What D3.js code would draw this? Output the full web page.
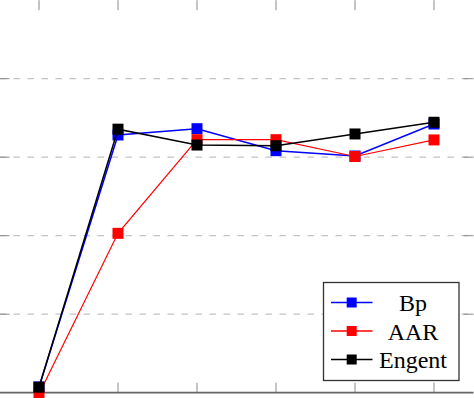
<!DOCTYPE html>
<html>
<head>
<meta charset="utf-8">
<script src="https://cdn.jsdelivr.net/npm/d3@7"></script>
<style>
	body { margin: 0; background: #fff; }
	svg { display: block; }
</style>
</head>
<body>
<svg id="chart" width="474" height="398"></svg>
<script>
// Accuracy of the three methods per setting.
var steps = [1, 2, 3, 4, 5, 6];
var bpValues = [0.5073, 0.8283, 0.8363, 0.8083, 0.8015, 0.8423];
var aarValues = [0.4983, 0.7030, 0.8223, 0.8223, 0.8009, 0.8220];
var engentValues = [0.5070, 0.8357, 0.8155, 0.8146, 0.8296, 0.8445];
var gridTicks = [0.6, 0.7, 0.8, 0.9];

var series = [
	{name: 'Bp', values: bpValues, color: '#0000ff', width: 1.5},
	{name: 'AAR', values: aarValues, color: '#ff0000', width: 1.2},
	{name: 'Engent', values: engentValues, color: '#000000', width: 1.5}
];

var svg = d3.select('#chart');

// The figure is cropped: the plot box runs just past the window edges.
var x = d3.scaleLinear().domain([0.5, 6.5]).range([-0.5, 473.5]);
var y = d3.scaleLinear().domain([0.5, 1.0]).range([392.7, 0.2]);
var tickLength = 10;

// Dashed horizontal grid.
svg.append('g').selectAll('line')
	.data(gridTicks)
	.enter().append('line')
	.attr('x1', x(0.5)).attr('x2', x(6.5))
	.attr('y1', function(d) { return y(d); })
	.attr('y2', function(d) { return y(d); })
	.attr('stroke', '#c4c4c4')
	.attr('stroke-width', 1.2)
	.attr('stroke-dasharray', '6.5,7.5');

// Tick marks on all four sides of the box.
var ticks = svg.append('g').attr('stroke', '#8a8a8a').attr('stroke-width', 1);
ticks.selectAll('.tick-top').data(steps).enter().append('line')
	.attr('x1', function(d) { return x(d); }).attr('x2', function(d) { return x(d); })
	.attr('y1', y(1.0)).attr('y2', y(1.0) + tickLength);
ticks.selectAll('.tick-bottom').data(steps).enter().append('line')
	.attr('x1', function(d) { return x(d); }).attr('x2', function(d) { return x(d); })
	.attr('y1', y(0.5)).attr('y2', y(0.5) - tickLength);
ticks.selectAll('.tick-left').data(gridTicks).enter().append('line')
	.attr('x1', x(0.5)).attr('x2', x(0.5) + tickLength)
	.attr('y1', function(d) { return y(d); }).attr('y2', function(d) { return y(d); });
ticks.selectAll('.tick-right').data(gridTicks).enter().append('line')
	.attr('x1', x(6.5)).attr('x2', x(6.5) - tickLength)
	.attr('y1', function(d) { return y(d); }).attr('y2', function(d) { return y(d); });

// Bottom axis line.
svg.append('line')
	.attr('x1', x(0.5)).attr('x2', x(6.5))
	.attr('y1', y(0.5)).attr('y2', y(0.5))
	.attr('stroke', '#666')
	.attr('stroke-width', 1.8);

// Lines with square markers, drawn Bp, AAR, then Engent on top.
var line = d3.line()
	.x(function(d, i) { return x(steps[i]); })
	.y(function(d) { return y(d); });
var markerSize = 11;

series.forEach(function(s) {
	var g = svg.append('g');
	g.append('path')
		.attr('d', line(s.values))
		.attr('fill', 'none')
		.attr('stroke', s.color)
		.attr('stroke-width', s.width);
	g.selectAll('rect').data(s.values).enter().append('rect')
		.attr('x', function(d, i) { return x(steps[i]) - markerSize / 2; })
		.attr('y', function(d) { return y(d) - markerSize / 2; })
		.attr('width', markerSize)
		.attr('height', markerSize)
		.attr('fill', s.color);
});

// Legend box in the lower right corner.
var legend = svg.append('g').attr('transform', 'translate(323.5,282.5)');
legend.append('rect')
	.attr('width', 135.5).attr('height', 98)
	.attr('fill', '#fff')
	.attr('stroke', '#333')
	.attr('stroke-width', 1.3);
var rows = legend.selectAll('.row').data(series).enter().append('g')
	.attr('transform', function(d, i) { return 'translate(0,' + (20 + i * 28.5) + ')'; });
rows.append('line')
	.attr('x1', 7.5).attr('x2', 49)
	.attr('stroke', function(d) { return d.color; })
	.attr('stroke-width', 1.3);
rows.append('rect')
	.attr('x', 28.2 - 5).attr('y', -5)
	.attr('width', 10).attr('height', 10)
	.attr('fill', function(d) { return d.color; });
rows.append('text')
	.attr('x', 89.5).attr('y', 8.5)
	.attr('text-anchor', 'middle')
	.attr('font-family', '"Liberation Serif", "DejaVu Serif", serif')
	.attr('font-size', 24)
	.attr('fill', '#000')
	.text(function(d) { return d.name; });
</script>
</body>
</html>
